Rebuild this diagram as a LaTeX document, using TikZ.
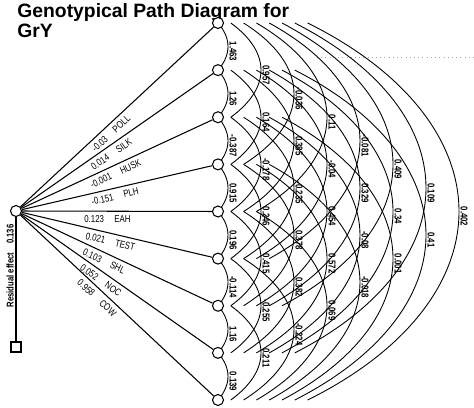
\documentclass[tikz,border=0pt]{standalone}
\usepackage{fontspec}
\setmainfont{Liberation Sans}
\newfontfamily\narrowfont[FakeStretch=0.78]{Liberation Sans}
\usetikzlibrary{calc}
\tikzset{
    var/.style={circle, draw, fill=white, line width=0.6pt, minimum size=2.2mm, inner sep=0pt},
    resid/.style={rectangle, draw, fill=white, line width=0.6pt, minimum size=2mm, inner sep=0pt},
    corr/.style={line width=0.5pt},
    corrlbl/.style={rotate=-90, anchor=south, inner sep=0.6pt, font=\narrowfont\bfseries\fontsize{5.7}{6}\selectfont},
    pathlbl/.style={sloped, below=1.3pt, inner sep=1pt, font=\narrowfont\fontsize{5.7}{6}\selectfont}
}
\begin{document}
\begin{tikzpicture}[x=0.2mm, y=-0.2mm]
    \useasboundingbox (0,0) rectangle (474,408);
    \node[anchor=north west, align=left, inner sep=0pt, font=\bfseries\fontsize{11}{11}\selectfont] (title) at (17,3.5) {Genotypical Path Diagram for\\GrY};
    \coordinate (d1) at (317,57);
    \coordinate (d2) at (474,57);
    \draw[gray!70, dotted, line width=0.4pt] (d1) -- (d2);
    \foreach \k in {1,...,9}
        \coordinate (p\k) at (218, {23+47.125*(\k-1)});
    \foreach \i/\j/\val in {1/2/1.463, 2/3/1.26, 3/4/-0.387, 4/5/0.915, 5/6/0.196, 6/7/-0.114, 7/8/1.16, 8/9/0.139,
        1/3/0.957, 2/4/0.164, 3/5/-0.178, 4/6/0.246, 5/7/0.415, 6/8/-0.255, 7/9/0.211,
        1/4/-0.036, 2/5/0.385, 3/6/-0.235, 4/7/0.378, 5/8/0.382, 6/9/-0.224,
        1/5/0.11, 2/6/-0.04, 3/7/0.454, 4/8/0.572, 5/9/0.069,
        1/6/-0.081, 2/7/0.329, 3/8/-0.08, 4/9/-0.018,
        1/7/0.409, 2/8/0.34, 3/9/0.001,
        1/8/0.109, 2/9/0.41,
        1/9/0.402}{
        \pgfmathsetmacro\sv{\j-\i}
        \pgfmathsetmacro\gap{12.8*(\sv-1)}
        \pgfmathsetmacro\rx{212+33*(\sv-1)}
        \pgfmathsetmacro\ang{acos((202+\gap)/\rx)}
        \pgfmathsetmacro\ry{23.5625*\sv/sin(\ang)}
        \pgfmathsetmacro\dx{\rx-202}
        \draw[corr] ($(p\i)+(\gap,0)$) arc[start angle=\ang, end angle=-\ang, x radius=\rx*0.2mm, y radius=\ry*0.2mm];
        \node[corrlbl] at ($(p\i)!0.5!(p\j)+(\dx,5)$) {\val};
    }
    \node[var] (hub) at (16,211) {};
    \node[resid] (res) at (16,347) {};
    \draw[line width=0.6pt] (hub) -- (res);
    \node[rotate=90, inner sep=0pt, font=\narrowfont\bfseries\fontsize{5.6}{6}\selectfont] (reslbl) at (10,266) {Residual effect\hspace{5pt}0.136};
    \foreach \k/\q/\val/\name in {1/0.44/-0.03/POLL, 2/0.447/0.014/SILK, 3/0.475/-0.001/HUSK, 4/0.48/-0.151/PLH, 5/0.45/0.123/EAH,
        6/0.475/0.021/TEST, 7/0.45/0.103/SHL, 8/0.44/0.052/NOC, 9/0.425/0.958/COW}{
        \node[var] (v\k) at (p\k) {};
        \draw[line width=0.6pt] (hub) -- (v\k) node[pathlbl, pos=\q] {\val\hspace{6pt}\name};
    }
\end{tikzpicture}
\end{document}
